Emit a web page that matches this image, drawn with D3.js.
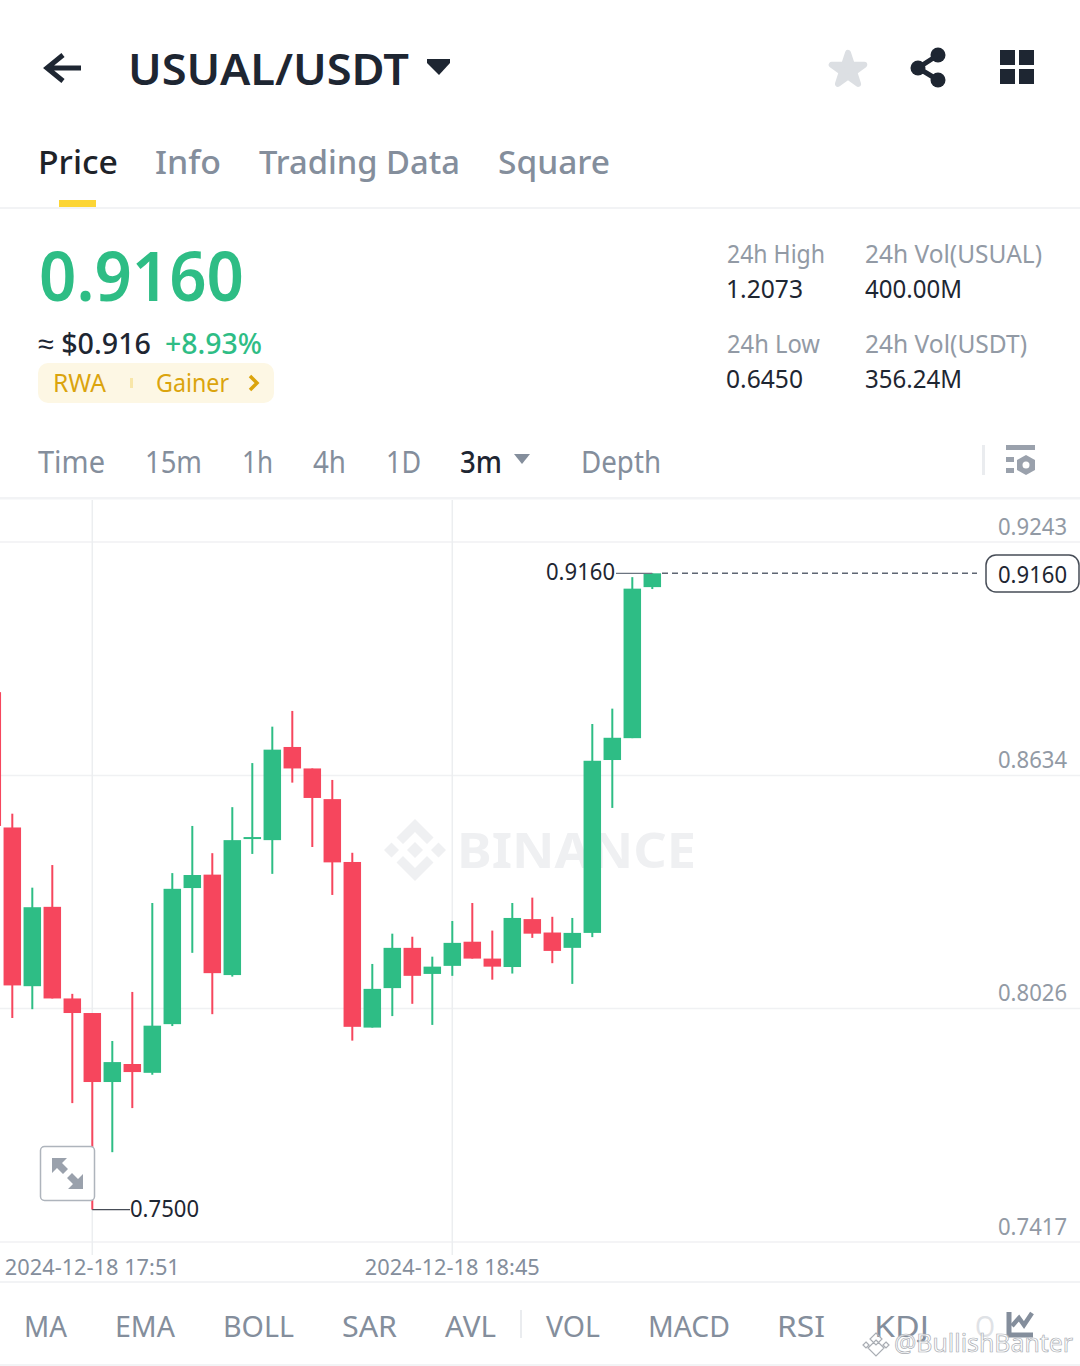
<!DOCTYPE html>
<html>
<head>
<meta charset="utf-8">
<title>USUAL/USDT</title>
<script src="https://cdn.jsdelivr.net/npm/d3@7/dist/d3.min.js"></script>
<style>
html,body{margin:0;padding:0;background:#fff;width:1080px;height:1366px;overflow:hidden}
svg{display:block;font-family:"Noto Sans",sans-serif}
</style>
</head>
<body>
<div id="chart"></div>
<script>
const times = ["17:36","17:39","17:42","17:45","17:48","17:51","17:54","17:57","18:00","18:03","18:06","18:09","18:12","18:15","18:18","18:21","18:24","18:27","18:30","18:33","18:36","18:39","18:42","18:45","18:48","18:51","18:54","18:57","19:00","19:03","19:06","19:09","19:12","19:15"];
const opens = [.8850,.8497,.8083,.8290,.8051,.8013,.7833,.7880,.7857,.7984,.8339,.8374,.8112,.8468,.8464,.8707,.8651,.8571,.8407,.7975,.8078,.8183,.8115,.8136,.8199,.8155,.8133,.8258,.8223,.8183,.8222,.8673,.8730,.9124];
const highs = [.8850,.8533,.8340,.8399,.8063,.8013,.7940,.8068,.8300,.8378,.8501,.8430,.8550,.8665,.8760,.8801,.8651,.8621,.8431,.8141,.8220,.8212,.8160,.8253,.8300,.8228,.8300,.8314,.8264,.8261,.8767,.8807,.9150,.9160];
const lows = [.8501,.8000,.8023,.8051,.7778,.7500,.7650,.7765,.7852,.7979,.8170,.8010,.8108,.8428,.8376,.8614,.8446,.8321,.7941,.7975,.8005,.8037,.7982,.8110,.8155,.8100,.8116,.8209,.8143,.8089,.8211,.8548,.8730,.9119];
const closes = [.8501,.8085,.8289,.8051,.8013,.7833,.7885,.7859,.7980,.8337,.8373,.8117,.8464,.8472,.8700,.8651,.8574,.8406,.7977,.8076,.8183,.8110,.8134,.8196,.8155,.8134,.8261,.8220,.8175,.8222,.8671,.8731,.9120,.9160];
const priceTicks = [.9243,.8634,.8026,.7417];
const timeTicks = ["17:51","18:45"];
const datePrefix = "2024-12-18 ";
const lastPrice = .9160, lowMark = .7500;

const UP="#2ebd85", DOWN="#f6465d", DARK="#1e2632", GREY="#848e9c", LIGHT="#929aa5", GRID="#f2f3f5";

const svg = d3.select("#chart").append("svg").attr("width",1080).attr("height",1366).attr("viewBox","0 0 1080 1366");

function t(g,s,x,y,size,color,weight,width,anchor){
  const e=g.append("text").attr("x",x).attr("y",y).attr("font-size",size).attr("fill",color).attr("font-weight",weight||400).text(s);
  if(width){e.attr("textLength",width).attr("lengthAdjust","spacingAndGlyphs");}
  if(anchor)e.attr("text-anchor",anchor);
  return e;
}

/* header */
const hd=svg.append("g");
hd.append("path").attr("d","M81 68H48M63 55L47 68L63 81").attr("fill","none").attr("stroke",DARK).attr("stroke-width",5);
t(hd,"USUAL/USDT",128,85,44,DARK,600,281);
hd.append("path").attr("d","M427 59H450V63L439 75L427 63Z").attr("fill",DARK);
hd.append("path").attr("d",d3.symbol(d3.symbolStar,330)()).attr("transform","translate(848,70)").attr("fill","#dcdfe3").attr("stroke","#dcdfe3").attr("stroke-width",6).attr("stroke-linejoin","round");
[[938,55],[918,68],[938,80]].forEach(p=>hd.append("circle").attr("cx",p[0]).attr("cy",p[1]).attr("r",7.5).attr("fill",DARK));
hd.append("path").attr("d","M938 55L918 68L938 80").attr("fill","none").attr("stroke",DARK).attr("stroke-width",5);
[[1000,50],[1019,50],[1000,69],[1019,69]].forEach(p=>hd.append("rect").attr("x",p[0]).attr("y",p[1]).attr("width",15).attr("height",15).attr("fill",DARK));

/* tabs */
t(hd,"Price",38,174,33,"#1e2329",500,80);
t(hd,"Info",155,174,33,GREY,500,66);
t(hd,"Trading Data",259,174,33,GREY,500,201);
t(hd,"Square",498,174,33,GREY,500,112);
hd.append("rect").attr("x",59).attr("y",200).attr("width",37).attr("height",7).attr("fill","#fcd535");
hd.append("rect").attr("x",0).attr("y",207).attr("width",1080).attr("height",2).attr("fill",GRID);

/* price block */
t(hd,"0.9160",39,300.5,68,UP,600,205);
t(hd,"≈ $0.916",38,354,29,DARK,500,113);
t(hd,"+8.93%",165,354,28,UP,500,97);
hd.append("rect").attr("x",38).attr("y",363).attr("width",236).attr("height",40).attr("rx",10).attr("fill","#fdf7e4");
t(hd,"RWA",53,392,25,"#dba40d",400,53);
hd.append("rect").attr("x",130).attr("y",378).attr("width",3).attr("height",10).attr("fill","#f8e6a8");
t(hd,"Gainer",156,392,25,"#dba40d",400,73);
hd.append("path").attr("d","M250 376L257 383L250 390").attr("fill","none").attr("stroke","#dba40d").attr("stroke-width",3.5);

t(hd,"24h High",727,263,25,LIGHT,400,98);
t(hd,"1.2073",726,298,25,DARK,400,77);
t(hd,"24h Low",727,353,25,LIGHT,400,93);
t(hd,"0.6450",726,388,25,DARK,400,77);
t(hd,"24h Vol(USUAL)",865,263,25,LIGHT,400,177);
t(hd,"400.00M",865,298,25,DARK,400,97);
t(hd,"24h Vol(USDT)",865,353,25,LIGHT,400,162);
t(hd,"356.24M",865,388,25,DARK,400,97);

/* interval row */
[["Time",38,67],["15m",145,57],["1h",242,31],["4h",313,33],["1D",386,35],["Depth",581,80]].forEach(d=>t(hd,d[0],d[1],473,30,GREY,400,d[2]));
t(hd,"3m",460,473,30,DARK,500,42);
hd.append("path").attr("d","M514 454H530L522 464Z").attr("fill",GREY);
hd.append("rect").attr("x",982).attr("y",445).attr("width",3).attr("height",30).attr("fill","#eaecef");
hd.append("rect").attr("x",1006).attr("y",445).attr("width",29).attr("height",5).attr("fill","#9aa1ac");
hd.append("rect").attr("x",1006).attr("y",457).attr("width",8).attr("height",5).attr("fill","#9aa1ac");
hd.append("rect").attr("x",1006).attr("y",468).attr("width",8).attr("height",5).attr("fill","#9aa1ac");
hd.append("path").attr("d","M1026 455L1035 460V470L1026 475L1017 470V460Z").attr("fill","#9aa1ac");
hd.append("circle").attr("cx",1026).attr("cy",465).attr("r",3.5).attr("fill","#fff");
hd.append("rect").attr("x",0).attr("y",497).attr("width",1080).attr("height",2.5).attr("fill",GRID);

/* scales */
const x=d3.scaleBand().domain(times).range([-17.7,662.3]).paddingInner(.125).paddingOuter(.0625);
const y=d3.scaleLinear().domain([priceTicks[0],priceTicks[3]]).range([541.5,1241.5]);
const cx=d=>x(d)+x.bandwidth()/2;

/* axes */
const yAxis=d3.axisRight(y).tickValues(priceTicks).tickSize(-1080).tickFormat(d3.format(".4f"));
const yg=svg.append("g").attr("transform","translate(1080,0)").call(yAxis);
yg.select(".domain").remove();
yg.selectAll("line").attr("stroke","#f0f1f3").attr("stroke-width",1.5);
yg.selectAll("text").attr("x",-13).attr("dy",-7.5).attr("text-anchor","end").attr("font-size",23).attr("font-family",'"Noto Sans",sans-serif').attr("fill",LIGHT).attr("textLength",69).attr("lengthAdjust","spacingAndGlyphs");

const xAxis=d3.axisBottom(x).tickValues(timeTicks).tickSize(-755).tickPadding(0).tickFormat(d=>datePrefix+d);
const xg=svg.append("g").attr("transform","translate(0,1255)").call(xAxis);
xg.select(".domain").remove();
xg.selectAll("line").attr("stroke","#eceef0").attr("stroke-width",1.5);
xg.selectAll("text").attr("y",20).attr("dy",0).attr("font-size",22.5).attr("font-family",'"Noto Sans",sans-serif').attr("fill",GREY).attr("textLength",175).attr("lengthAdjust","spacingAndGlyphs");

/* watermark */
const wm=svg.append("g").attr("fill","#eff0f2");
wm.append("text").attr("x",457).attr("y",868).attr("font-size",48).attr("font-weight",700).attr("textLength",239).attr("lengthAdjust","spacingAndGlyphs").text("BINANCE");
const dia=(a,b,r)=>`M${a} ${b-r}L${a+r} ${b}L${a} ${b+r}L${a-r} ${b}Z`;
wm.append("path").attr("d",dia(415,850,8)+dia(391.5,850,7.5)+dia(438.5,850,7.5));
wm.append("path").attr("d","M415 819L433.5 837.5L427 844L415 832L403 844L396.5 837.5Z");
wm.append("path").attr("d","M415 881L433.5 862.5L427 856L415 868L403 856L396.5 862.5Z");

/* candles */
const rows=times.map((k,i)=>({k,o:opens[i],h:highs[i],l:lows[i],c:closes[i]}));
const col=d=>d.c>=d.o?UP:DOWN;
const cs=svg.append("g").selectAll("g").data(rows).join("g");
cs.append("line").attr("x1",d=>cx(d.k)).attr("x2",d=>cx(d.k)).attr("y1",d=>y(d.h)).attr("y2",d=>y(d.l)).attr("stroke",col).attr("stroke-width",2);
cs.append("rect").attr("x",d=>x(d.k)).attr("width",x.bandwidth())
  .attr("y",d=>y(Math.max(d.o,d.c))).attr("height",d=>Math.max(2,Math.abs(y(d.o)-y(d.c)))).attr("fill",col);

/* price annotations */
const ann=svg.append("g");
const ly=y(lastPrice);
ann.append("line").attr("x1",616).attr("x2",cx(times[33])).attr("y1",ly).attr("y2",ly).attr("stroke","#6b7480").attr("stroke-width",1.3);
ann.append("line").attr("x1",662).attr("x2",977).attr("y1",ly).attr("y2",ly).attr("stroke","#5e6673").attr("stroke-width",1.5).attr("stroke-dasharray","6 4");
t(ann,d3.format(".4f")(lastPrice),546,580,23,DARK,400,69);
ann.append("rect").attr("x",986).attr("y",555).attr("width",93).attr("height",37).attr("rx",10).attr("fill","#fff").attr("stroke","#474d57").attr("stroke-width",1.5);
t(ann,d3.format(".4f")(lastPrice),998,583,23,DARK,400,69);
const lo=y(lowMark);
ann.append("line").attr("x1",cx(times[5])).attr("x2",130).attr("y1",lo).attr("y2",lo).attr("stroke","#474d57").attr("stroke-width",1.3);
t(ann,d3.format(".4f")(lowMark),130,1217,23,DARK,400,69);

/* expand button */
const bt=svg.append("g");
bt.append("rect").attr("x",40.5).attr("y",1146.5).attr("width",54).attr("height",54).attr("rx",4).attr("fill","#fff").attr("stroke","#aeb4bc").attr("stroke-width",1.5);
bt.append("path").attr("d","M52 1158H67L62 1163L68 1169L63 1174L57 1168L52 1173Z").attr("fill","#9aa1ac");
bt.append("path").attr("d","M83 1189H68L73 1184L67 1178L72 1173L78 1179L83 1174Z").attr("fill","#9aa1ac");

/* bottom row */
const bm=svg.append("g");
bm.append("rect").attr("x",0).attr("y",1281).attr("width",1080).attr("height",2).attr("fill",GRID);
bm.append("rect").attr("x",0).attr("y",1364).attr("width",1080).attr("height",2).attr("fill",GRID);
[["MA",24,43],["EMA",115,60],["BOLL",223,71],["SAR",342,55],["AVL",445,51],["VOL",546,54],["MACD",648,82],["RSI",777,48],["KDJ",874,55]].forEach(d=>t(bm,d[0],d[1],1337,29,GREY,400,d[2]));
t(bm,"O",975,1337,29,"#dfe2e6",400,20);
bm.append("rect").attr("x",520).attr("y",1310).attr("width",2).attr("height",28).attr("fill","#eaecef");
bm.append("path").attr("d","M1009 1312V1335H1033").attr("fill","none").attr("stroke",GREY).attr("stroke-width",5);
bm.append("path").attr("d","M1012 1326L1019 1318L1024 1325L1032 1313").attr("fill","none").attr("stroke",GREY).attr("stroke-width",4.5);

/* author mark */
const wk=svg.append("g");
t(wk,"@BullishBanter",894,1352,25,"#ffffff",400,179).attr("stroke","#a9adb3").attr("stroke-width",.7).attr("fill-opacity",.75);
wk.append("path").attr("fill","none").attr("stroke","#a9adb3").attr("stroke-width",1.2).attr("d",dia(876,1339,6)+dia(876,1348,8)+dia(866,1345,3)+dia(886,1345,3));
</script>
</body>
</html>
